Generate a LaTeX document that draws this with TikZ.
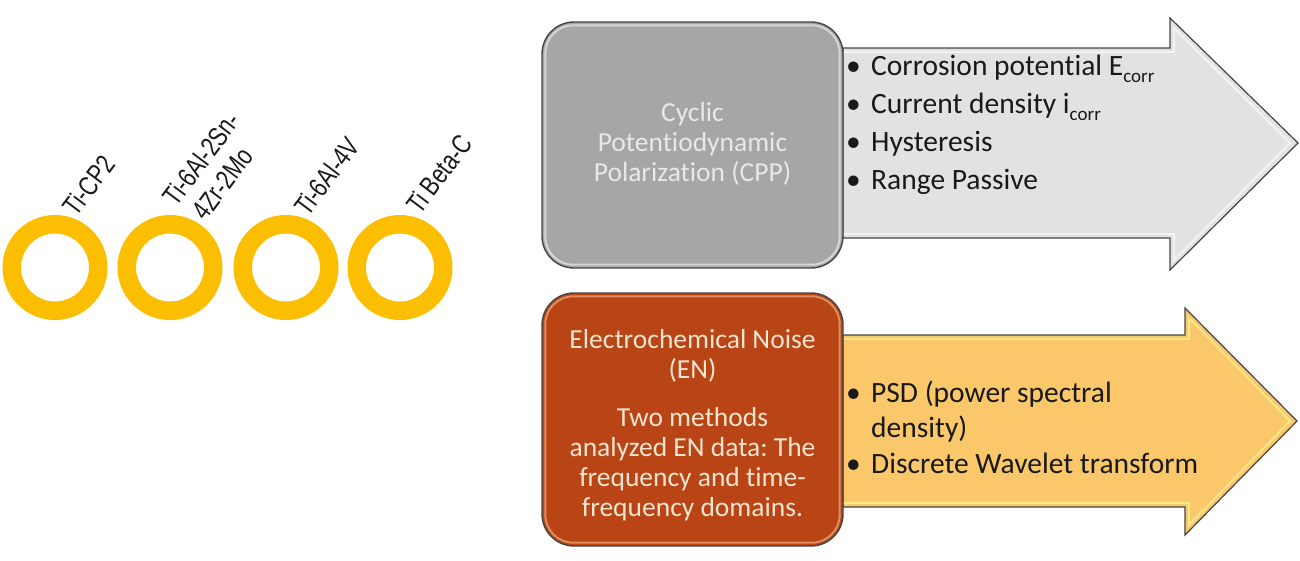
\documentclass[tikz,border=0pt]{standalone}
\usepackage{fontspec}
\setmainfont{Carlito}[Ligatures=NoCommon]
\newfontfamily\condfont[FakeStretch=0.78]{Liberation Sans}
\definecolor{ringc}{RGB}{252,190,0}
\definecolor{cppfill}{RGB}{166,166,166}
\definecolor{cpptext}{RGB}{232,232,232}
\definecolor{enfill}{RGB}{185,68,22}
\definecolor{entext}{RGB}{246,230,208}
\definecolor{arrgrey}{RGB}{226,226,226}
\definecolor{arrorange}{RGB}{250,200,106}
\definecolor{edge}{RGB}{70,70,70}
\newcommand\sbs[1]{\raisebox{-0.24em}{\fontsize{19}{19}\selectfont #1}}
\frenchspacing
\begin{document}
\begin{tikzpicture}[x=1pt,y=-1pt,
  ringnode/.style={circle,draw=ringc,line width=18.5pt,minimum size=86.5pt,inner sep=0pt},
  lab/.style={font=\condfont\fontsize{27.5}{32}\selectfont,inner sep=0pt,anchor=base west,rotate=53,text=black!90},
  boxnode/.style={rounded corners=32pt,draw=edge,line width=1.4pt,minimum width=301pt,inner sep=0pt},
  bevel/.style={draw=white,opacity=0.55,line width=2pt,rounded corners=28pt},
  arrowshape/.style={draw=edge,line width=1.2pt},
  arrowbevel/.style={draw=white,opacity=0.6,line width=2pt},
  boxtext/.style={font=\fontsize{27.5}{30}\selectfont,align=center,inner sep=0pt,anchor=base},
  bul/.style={font=\fontsize{29.5}{35.5}\selectfont,inner sep=0pt,anchor=base west,text=black!90}
]
\useasboundingbox (0,0) rectangle (1300,560);

% rings
\node[ringnode] (r1) at (55,267.5) {};
\node[ringnode] (r2) at (170,267.5) {};
\node[ringnode] (r3) at (286,267.5) {};
\node[ringnode] (r4) at (400,267.5) {};

% ring labels
\node[lab] (l1) at (76.5,217.5) {Ti-CP2};
\node[lab,align=left] (l2) at (202.1,226.8) {Ti-6Al-2Sn-\\\hspace*{6pt}4Zr-2Mo};
\node[lab] (l3) at (308,217.5) {Ti-6Al-4V};
\node[lab] (l4) at (420,215.8) {Ti Beta-C};

% arrows
\path[arrowshape,fill=arrgrey] (843,48) -- (1170,48) -- (1170,18) -- (1298,143) -- (1170,270) -- (1170,238) -- (843,238) -- cycle;
\path[arrowbevel] (843,52) -- (1174,52) -- (1174,28) -- (1290,143) -- (1174,260) -- (1174,234) -- (843,234);
\path[arrowshape,fill=arrorange] (843,335) -- (1185,335) -- (1185,308) -- (1297,421) -- (1185,535) -- (1185,507) -- (843,507) -- cycle;
\path[arrowbevel,draw=white!60!yellow] (843,339) -- (1189,339) -- (1189,318) -- (1290,421) -- (1189,525) -- (1189,503) -- (843,503);

% boxes
\node[boxnode,fill=cppfill,minimum height=246pt] (cpp) at (692.5,145) {};
\draw[bevel] ([xshift=4pt,yshift=-4pt]cpp.north west) rectangle ([xshift=-4pt,yshift=4pt]cpp.south east);
\node[boxnode,fill=enfill,minimum height=253pt] (en) at (692.5,419.5) {};
\draw[bevel,draw=orange!40] ([xshift=4pt,yshift=-4pt]en.north west) rectangle ([xshift=-4pt,yshift=4pt]en.south east);

% box texts (base anchor = last line)
\node[boxtext,text=cpptext] (cppt) at (692.5,181.7) {Cyclic\\Potentiodynamic\\Polarization (CPP)};
\node[boxtext,text=entext] (ent) at (692.5,516.7) {Electrochemical Noise\\(EN)\\[18pt]Two methods\\analyzed EN data: The\\frequency and time-\\frequency domains.};

% bullets top
\node[bul] (b1) at (846,75) {\makebox[25pt][l]{•}Corrosion potential E\sbs{corr}};
\node[bul] (b2) at (846,113) {\makebox[25pt][l]{•}Current density i\sbs{corr}};
\node[bul] (b3) at (846,151) {\makebox[25pt][l]{•}Hysteresis};
\node[bul] (b4) at (846,189) {\makebox[25pt][l]{•}Range Passive};

% bullets bottom
\node[bul] (c1) at (846,402) {\makebox[25pt][l]{•}PSD (power spectral};
\node[bul] (c1b) at (871,437.5) {density)};
\node[bul] (c2) at (846,473) {\makebox[25pt][l]{•}Discrete Wavelet transform};
\end{tikzpicture}
\end{document}
